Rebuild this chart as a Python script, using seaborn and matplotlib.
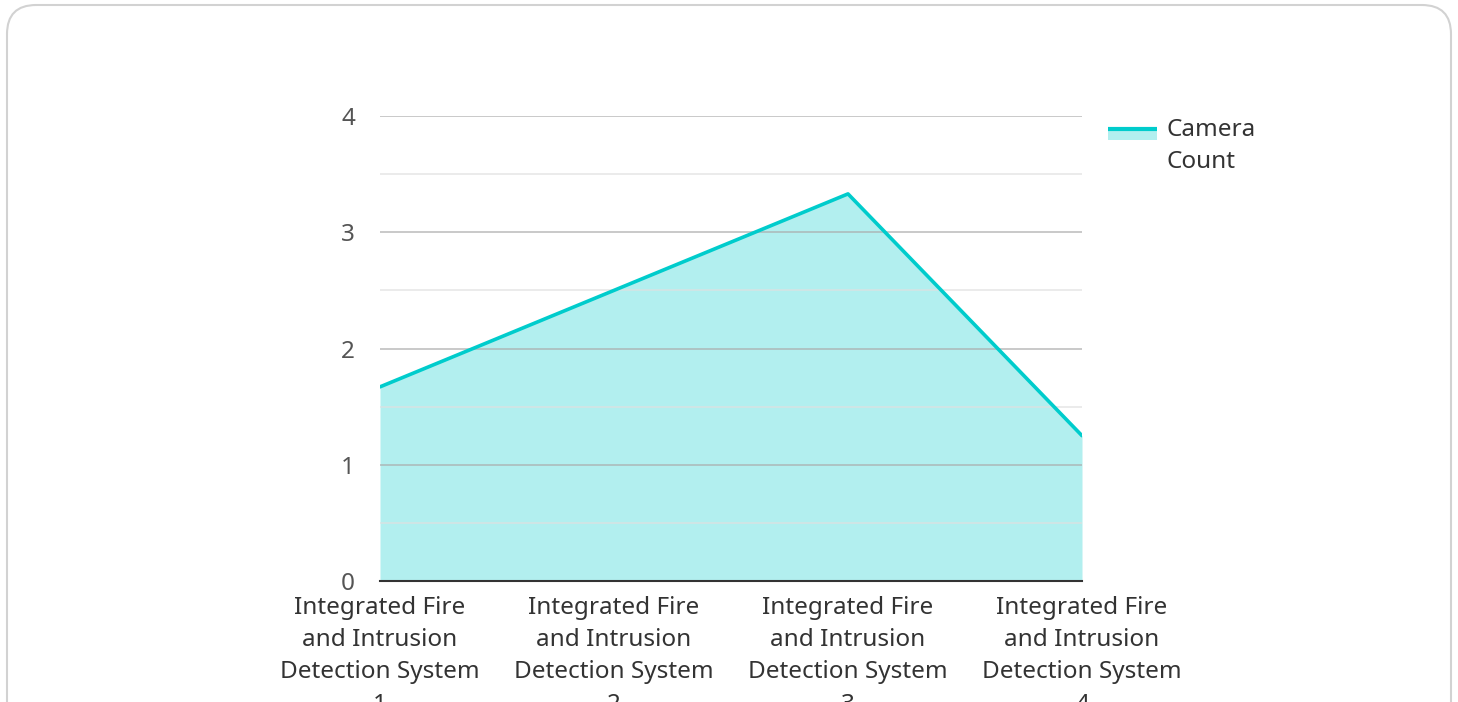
import matplotlib
matplotlib.use("Agg")
import matplotlib.pyplot as plt
import seaborn as sns
import pandas as pd
from matplotlib.patches import FancyBboxPatch, Rectangle

# Data
systems = ["Integrated Fire and Intrusion Detection System 1",
           "Integrated Fire and Intrusion Detection System 2",
           "Integrated Fire and Intrusion Detection System 3",
           "Integrated Fire and Intrusion Detection System 4"]
tick_labels = ["Integrated Fire\nand Intrusion\nDetection System\n1",
               "Integrated Fire\nand Intrusion\nDetection System\n2",
               "Integrated Fire\nand Intrusion\nDetection System\n3",
               "Integrated Fire\nand Intrusion\nDetection System\n4"]
camera_count = [1.67, 2.5, 3.33, 1.25]
series_name = "Camera\nCount"

df = pd.DataFrame({"system": systems, "pos": range(len(systems)), "count": camera_count})

sns.set_style("white")
plt.rcParams["font.family"] = ["Noto Sans", "DejaVu Sans"]

LINE = "#00cccc"
FILL = "#b2efef"
FS = 17.5

fig = plt.figure(figsize=(14.58, 7.02), dpi=100)
ax = fig.add_axes([380 / 1458, 1 - 581 / 702, 702 / 1458, 465 / 702])

# card outline
card = FancyBboxPatch((7 / 1458, -0.1), 1444 / 1458, 1.1 - 5 / 702,
                      boxstyle="round,pad=0,rounding_size=0.02",
                      transform=fig.transFigure, facecolor="white",
                      edgecolor="#d2d2d2", linewidth=1.5, zorder=-10,
                      mutation_aspect=1458 / 702)
fig.patches.append(card)

ax.fill_between(df["pos"], 0, df["count"], color=FILL, linewidth=0, zorder=1)
sns.lineplot(data=df, x="pos", y="count", color=LINE, linewidth=2.6, ax=ax, zorder=4)

ax.set_xlim(0, 3)
ax.set_ylim(0, 4)
ax.set_yticks([0, 1, 2, 3, 4])
ax.set_yticks([0.5, 1.5, 2.5, 3.5], minor=True)
ax.grid(which="major", axis="y", color="#aaaaaa", linewidth=1.1, alpha=0.8, zorder=2)
ax.grid(which="minor", axis="y", color="#e0e0e0", linewidth=1.1, alpha=0.8, zorder=2)
ax.set_axisbelow(False)
ax.set_xticks(df["pos"])
ax.set_xticklabels(tick_labels, linespacing=1.45)
ax.tick_params(axis="x", length=0, pad=11, labelsize=FS, labelcolor="#333333")
ax.tick_params(axis="y", which="both", length=0, pad=18, labelsize=FS, labelcolor="#555555")
ax.set_xlabel("")
ax.set_ylabel("")
for s in ["top", "right", "left"]:
    ax.spines[s].set_visible(False)
ax.spines["bottom"].set_color("#333333")
ax.spines["bottom"].set_linewidth(1.5)
ax.spines["bottom"].set_zorder(5)
ax.patch.set_alpha(0)

# legend key: filled swatch with the series line on top
ax.add_patch(Rectangle((1.037, 0.948), 0.070, 0.024, transform=ax.transAxes,
                       facecolor=FILL, edgecolor="none", clip_on=False))
ax.plot([1.037, 1.107], [0.973, 0.973], transform=ax.transAxes, color=LINE,
        linewidth=3, clip_on=False, solid_capstyle="butt")
ax.text(1.121, 0.936, series_name, transform=ax.transAxes, ha="left", va="center",
        fontsize=FS, color="#333333", linespacing=1.45)

fig.savefig("out.png", dpi=100)
